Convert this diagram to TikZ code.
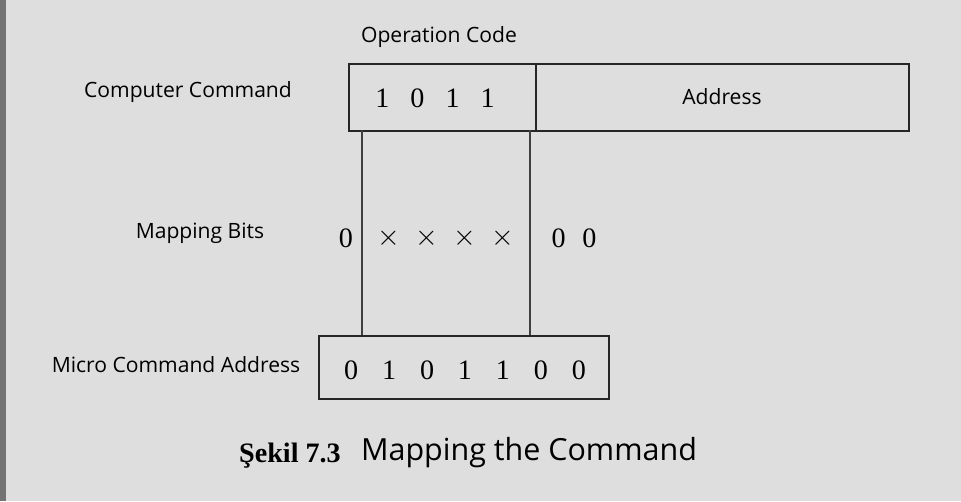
\documentclass[tikz,border=0pt]{standalone}
\usepackage{fontspec}
\setmainfont{Liberation Serif}
\newfontfamily\lab{Open Sans}
\begin{document}
\begin{tikzpicture}[x=0.03cm,y=-0.03cm,
  lbl/.style={font=\lab\fontsize{18}{21}\selectfont,inner sep=1pt},
  dig/.style={font=\fontsize{24}{28}\selectfont,inner sep=1pt},
  box/.style={draw=black!85,line width=1.3pt},
  ln/.style={draw=black!75,line width=1pt}]
\fill[black!13] (0,0) rectangle (961,501);
\fill[black!55] (0,0) rectangle (6,501);
\useasboundingbox (0,0) rectangle (961,501);
% top box
\node[box,minimum width=187*0.03cm,minimum height=67*0.03cm,anchor=north west] (op) at (348,63) {};
\node[box,minimum width=373*0.03cm,minimum height=67*0.03cm,anchor=north west] (ad) at (535,63) {};
\node[dig] (opt) at (435,98) {1\hspace{0.75em}0\hspace{0.75em}1\hspace{0.75em}1};
\node[lbl] (adt) at (722,97) {Address};
\node[lbl] (opc) at (439,37) {Operation Code};
\node[lbl] (cc) at (188,92) {Computer Command};
% bottom box
\node[box,minimum width=290*0.03cm,minimum height=63*0.03cm,anchor=north west] (mc) at (318,335) {};
\node[dig] (mct) at (465,370) {0\hspace{0.85em}1\hspace{0.85em}0\hspace{0.85em}1\hspace{0.85em}1\hspace{0.85em}0\hspace{0.85em}0};
\node[lbl] (mca) at (176,365) {Micro Command Address};
% connectors
\coordinate (a1) at (362,130); \coordinate (a2) at (362,335);
\coordinate (b1) at (530,130); \coordinate (b2) at (530,335);
\draw[ln] (a1) -- (a2);
\draw[ln] (b1) -- (b2);
% mapping bits
\node[lbl] (mb) at (200,233) {Mapping Bits};
\node[dig] (z1) at (346,238) {0};
\node[dig] (xs) at (446,238) {$\times$\hspace{0.55em}$\times$\hspace{0.55em}$\times$\hspace{0.55em}$\times$};
\node[dig] (z2) at (574,238) {0\hspace{0.6em}0};
% caption
\node[font=\bfseries\fontsize{24}{28}\selectfont] (sk) at (290,456) {Şekil 7.3};
\node[lbl,font=\lab\fontsize{26}{30}\selectfont] (mt) at (529,453) {Mapping the Command};
\end{tikzpicture}
\end{document}
